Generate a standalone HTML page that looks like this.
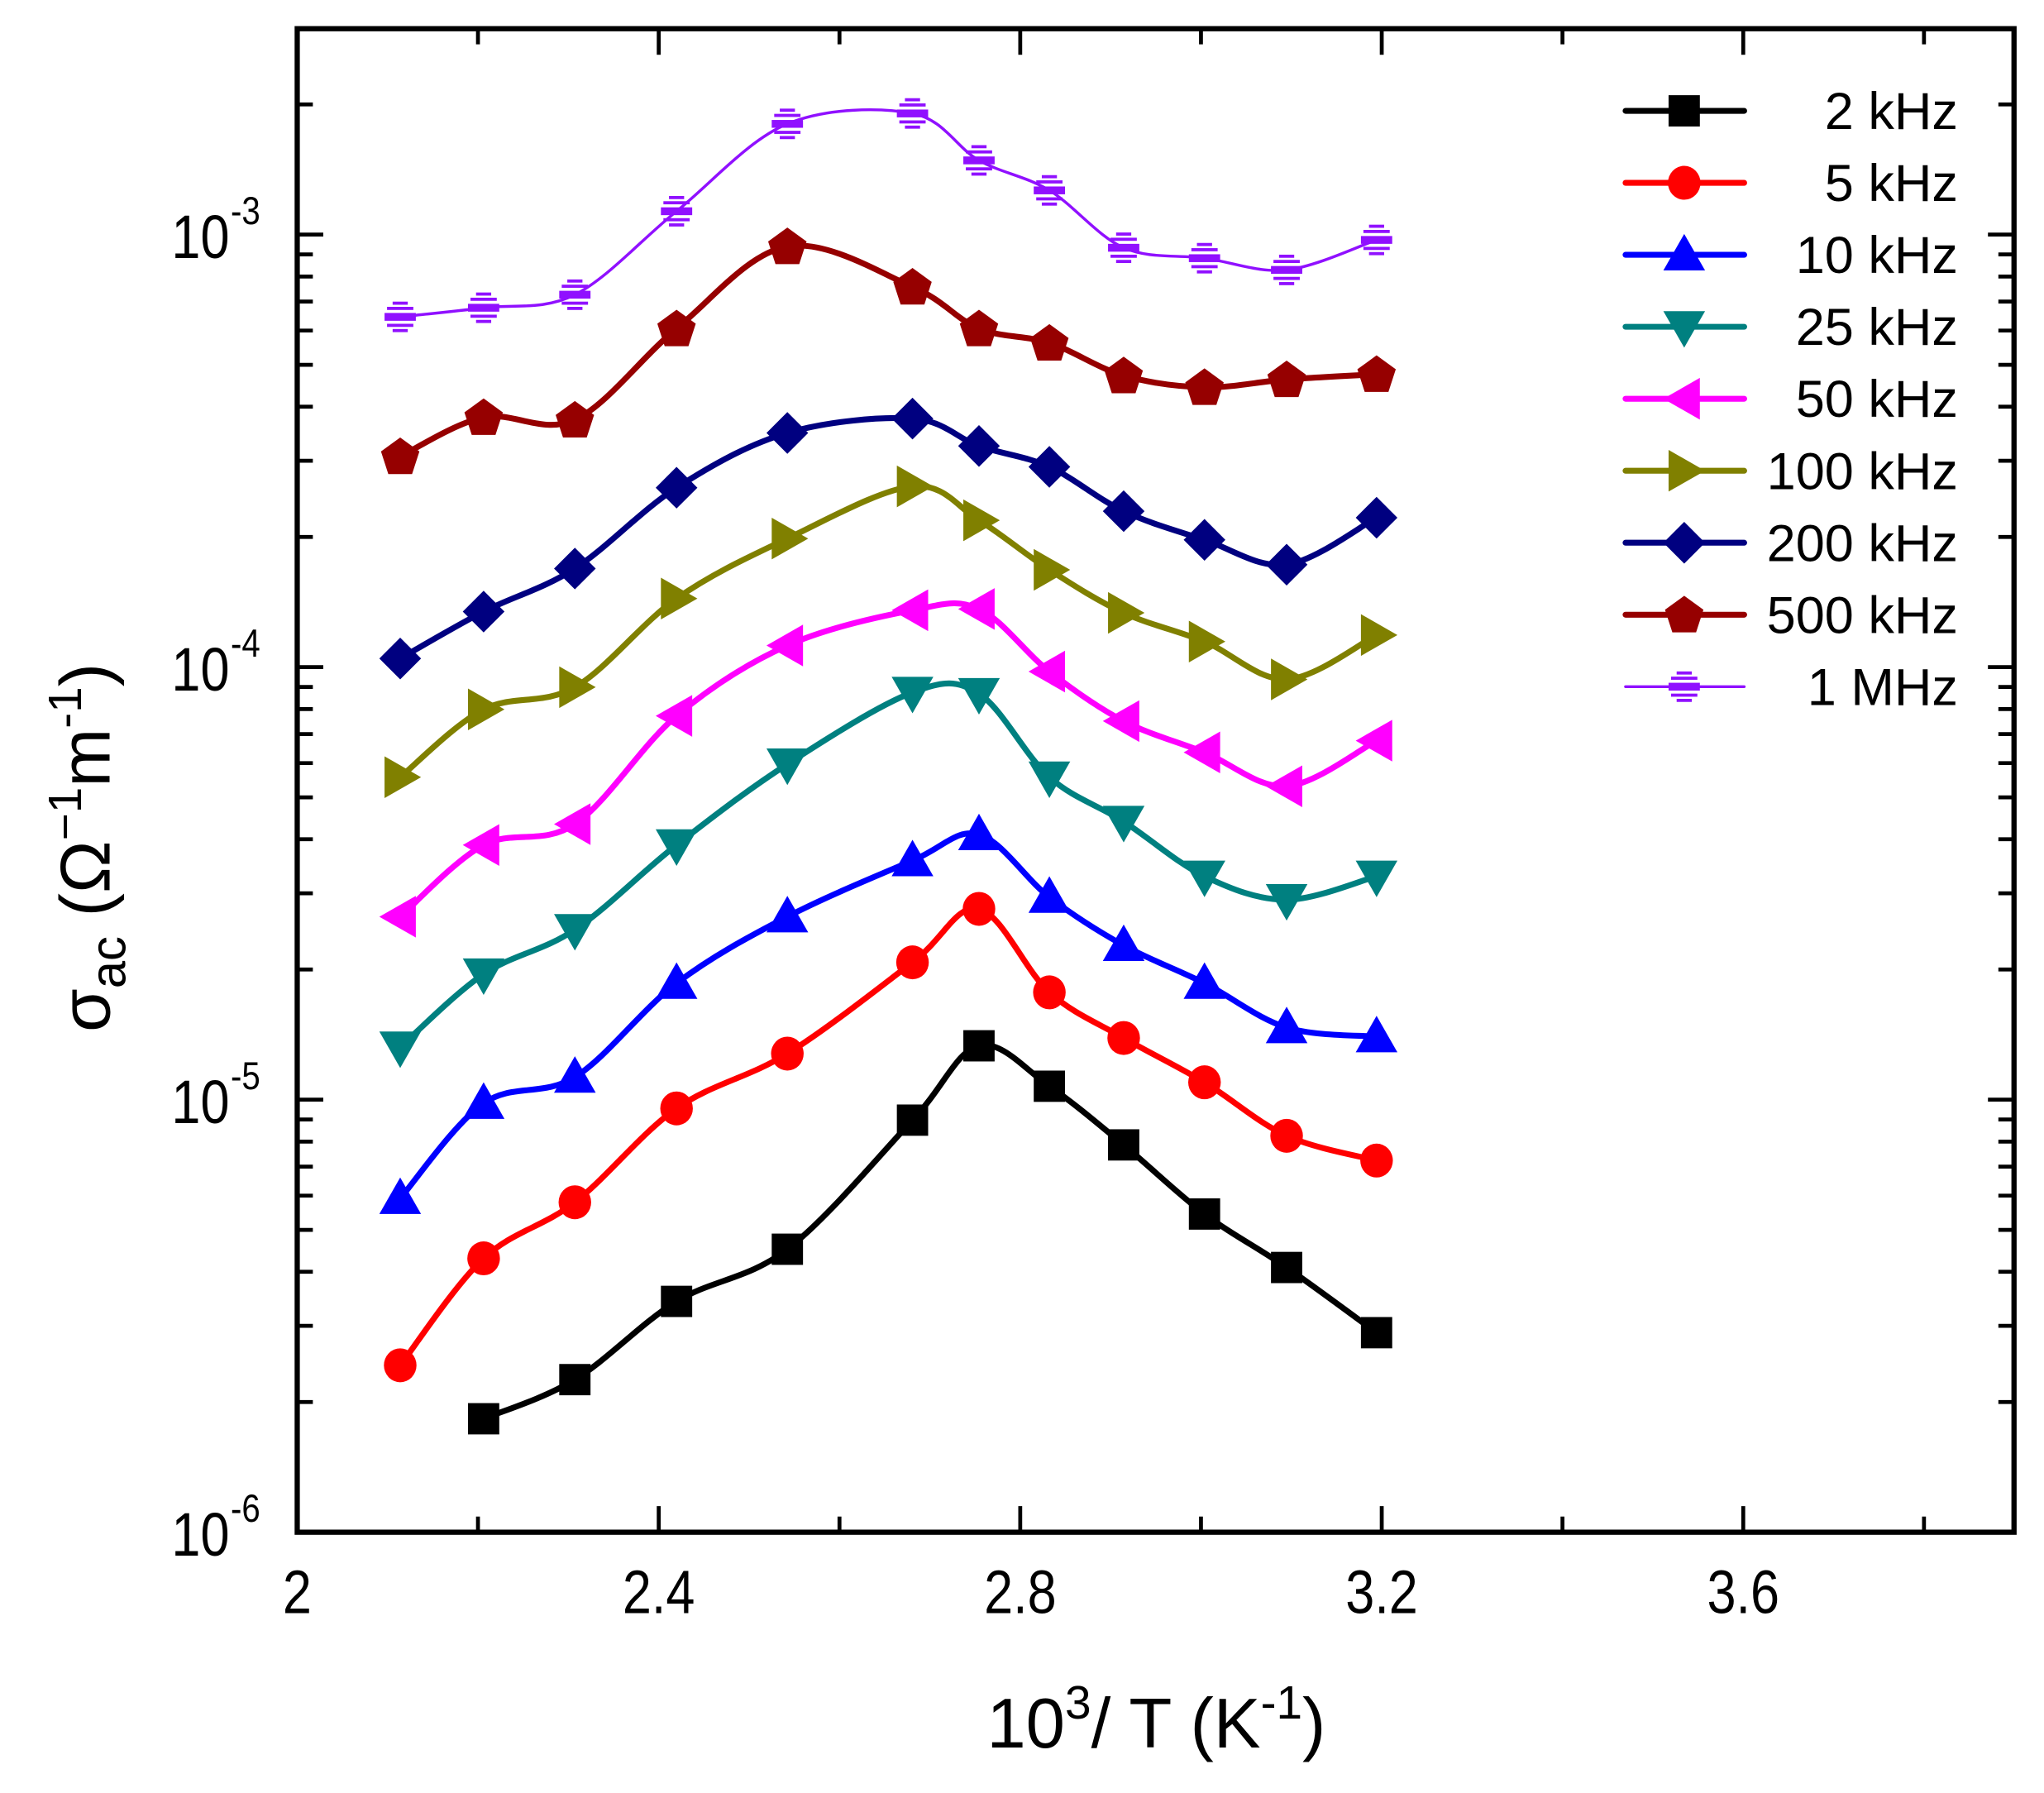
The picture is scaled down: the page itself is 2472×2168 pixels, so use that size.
<!DOCTYPE html>
<html><head><meta charset="utf-8">
<style>
html,body{margin:0;padding:0;background:#fff;}
svg{display:block;}
text{font-family:"Liberation Sans",Arial,sans-serif;fill:#000;}
</style></head>
<body>
<svg id="s" width="2472" height="2168" viewBox="0 0 1568 1375" preserveAspectRatio="none" xmlns="http://www.w3.org/2000/svg">
<g id="g"></g>
</svg>
<script>
var g=document.getElementById('g');var out='';
var L=228,R=1545,T=22,B=1175;
function X(v){return L+(v-2)*693.3;}
function Y(e){return B-(e+6)*331.7;}
out+='<rect x="'+L+'" y="'+T+'" width="'+(R-L)+'" height="'+(B-T)+'" fill="none" stroke="#000" stroke-width="4"/>';
for(var i=0;i<=9;i++){var v=2+i*0.2;var x=X(v);var len=(i%2==0)?20:12;
out+='<line x1="'+x+'" y1="'+B+'" x2="'+x+'" y2="'+(B-len)+'" stroke="#000" stroke-width="3"/>';
out+='<line x1="'+x+'" y1="'+T+'" x2="'+x+'" y2="'+(T+len)+'" stroke="#000" stroke-width="3"/>';
if(i%2==0){out+='<text transform="translate('+x+',1237) scale(0.85,1)" font-size="47" text-anchor="middle">'+(+v.toFixed(1))+'</text>';}}
for(var d=-6;d<=-3;d++){for(var m=1;m<=9;m++){var e=d+Math.log10(m);var y=Y(e);if(y<T)continue;var len=(m==1)?20:12;
out+='<line x1="'+L+'" y1="'+y+'" x2="'+(L+len)+'" y2="'+y+'" stroke="#000" stroke-width="3"/>';
out+='<line x1="'+R+'" y1="'+y+'" x2="'+(R-len)+'" y2="'+y+'" stroke="#000" stroke-width="3"/>';
if(m==1){out+='<text transform="translate(176,'+(y+18)+') scale(0.85,1)" font-size="47" text-anchor="end">10</text><text transform="translate(177,'+(y-8)+') scale(0.85,1)" font-size="30">'+d+'</text>';}}}
out+='<text x="887" y="1340" font-size="54" text-anchor="middle">10<tspan font-size="36" dy="-22">3</tspan><tspan dy="22">/ T (K</tspan><tspan font-size="36" dy="-22">-1</tspan><tspan dy="22">)</tspan></text>';
out+='<text transform="translate(84,650) rotate(-90)" font-size="54" text-anchor="middle">σ<tspan font-size="38" dy="12">ac</tspan><tspan dy="-12"> (Ω</tspan><tspan font-size="36" dy="-22">−1</tspan><tspan dy="22">m</tspan><tspan font-size="36" dy="-22">-1</tspan><tspan dy="22">)</tspan></text>';
var xs=[307,371,441,519,604,700,751,805,862,924,987,1056];
var S=[
['2 kHz','#000','sq',[null,1088,1058,998,958,859,802,833,878,931,972,1022]],
['5 kHz','#ff0000','ci',[1047,965,922,850,808,738,697,761,796,830,871,890]],
['10 kHz','#0000ff','up',[919,846,826,754,703,660,640,688,725,754,788,795]],
['25 kHz','#008080','dn',[803,747,713,648,586,531,532,596,630,672,690,672]],
['50 kHz','#ff00ff','lf',[703,648,632,549,495,468,467,515,553,577,603,568]],
['100 kHz','#808000','rt',[596,544,527,459,413,373,399,437,470,492,521,487]],
['200 kHz','#000080','di',[505,469,436,374,332,321,342,358,392,414,433,397]],
['500 kHz','#960000','pe',[350,320,322,252,189,220,252,263,288,297,291,287]],
['1 MHz','#9010ff','st',[243,236,226,162,95,87,123,146,190,198,207,184]]];
function path(p){var s='M'+p[0][0]+','+p[0][1];for(var i=0;i<p.length-1;i++){var p0=p[i-1]||p[i],p1=p[i],p2=p[i+1],p3=p[i+2]||p2;
var c1=[p1[0]+(p2[0]-p0[0])/6,p1[1]+(p2[1]-p0[1])/6],c2=[p2[0]-(p3[0]-p1[0])/6,p2[1]-(p3[1]-p1[1])/6];
s+=' C'+c1[0]+','+c1[1]+' '+c2[0]+','+c2[1]+' '+p2[0]+','+p2[1];}return s;}
function mk(t,x,y,c){
if(t=='sq')return '<rect x="'+(x-12)+'" y="'+(y-12)+'" width="24" height="24" fill="'+c+'"/>';
if(t=='ci')return '<ellipse cx="'+x+'" cy="'+y+'" rx="12.5" ry="13" fill="'+c+'"/>';
if(t=='up')return '<polygon points="'+x+','+(y-16)+' '+(x-16)+','+(y+12)+' '+(x+16)+','+(y+12)+'" fill="'+c+'"/>';
if(t=='dn')return '<polygon points="'+x+','+(y+16)+' '+(x-16)+','+(y-12)+' '+(x+16)+','+(y-12)+'" fill="'+c+'"/>';
if(t=='lf')return '<polygon points="'+(x-16)+','+y+' '+(x+12)+','+(y-16)+' '+(x+12)+','+(y+16)+'" fill="'+c+'"/>';
if(t=='rt')return '<polygon points="'+(x+16)+','+y+' '+(x-12)+','+(y-16)+' '+(x-12)+','+(y+16)+'" fill="'+c+'"/>';
if(t=='di')return '<polygon points="'+x+','+(y-16)+' '+(x+16)+','+y+' '+x+','+(y+16)+' '+(x-16)+','+y+'" fill="'+c+'"/>';
if(t=='pe'){var pts=[];for(var k=0;k<5;k++){var a=-Math.PI/2+k*2*Math.PI/5;pts.push((x+15.5*Math.cos(a))+','+(y+1+15.5*Math.sin(a)));}return '<polygon points="'+pts.join(' ')+'" fill="'+c+'"/>';}
if(t=='st'){var s='<rect x="'+(x-12)+'" y="'+(y-3)+'" width="24" height="6" fill="'+c+'"/>';var ks=[-10.5,-6.5,6.5,10.5];for(var j=0;j<4;j++){var k=ks[j];var hw=Math.sqrt(Math.max(0,144-k*k));s+='<rect x="'+(x-hw)+'" y="'+(y+k-1.2)+'" width="'+(2*hw)+'" height="2.4" fill="'+c+'"/>';}return s;}}
for(var si=0;si<S.length;si++){var sr=S[si];var p=[];for(var i=0;i<xs.length;i++){if(sr[3][i]!=null)p.push([xs[i],sr[3][i]]);}
var w=sr[2]=='st'?2.2:4.5;
out+='<path d="'+path(p)+'" fill="none" stroke="'+sr[1]+'" stroke-width="'+w+'" stroke-linecap="round"/>';
for(var i=0;i<p.length;i++)out+=mk(sr[2],p[i][0],p[i][1],sr[1]);
var ly=85+si*55.2;
out+='<line x1="1247" y1="'+ly+'" x2="1338" y2="'+ly+'" stroke="'+sr[1]+'" stroke-width="'+w+'" stroke-linecap="round"/>';
out+=mk(sr[2],1292,ly,sr[1]);
out+='<text x="1502" y="'+(ly+14)+'" font-size="40" text-anchor="end">'+sr[0]+'</text>';}
g.innerHTML=out;
</script>
</body></html>
